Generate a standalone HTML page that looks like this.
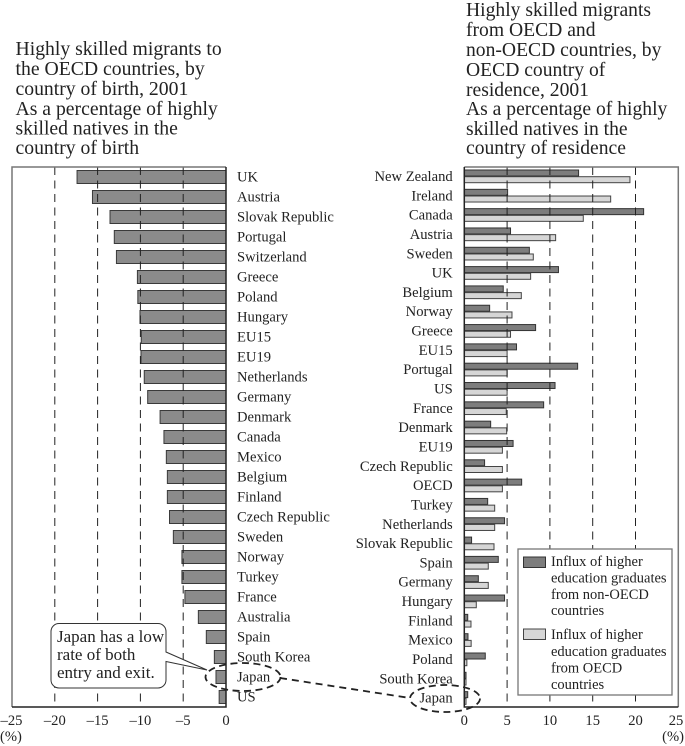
<!DOCTYPE html>
<html lang="en">
<head>
<meta charset="utf-8">
<title>Highly skilled migrants</title>
<style>
html,body{margin:0;padding:0;background:#fff;}
svg{display:block;font-family:"Liberation Serif",serif;fill:#222;}
</style>
</head>
<body>
<svg id="chart" xmlns="http://www.w3.org/2000/svg" width="685" height="746" viewBox="0 0 685 746">
  <g font-size="19.7">
    <text x="15.500" y="55">Highly skilled migrants to</text>
    <text x="15.500" y="75">the OECD countries, by</text>
    <text x="15.500" y="95">country of birth, 2001</text>
    <text x="15.500" y="115">As a percentage of highly</text>
    <text x="15.500" y="134.500">skilled natives in the</text>
    <text x="15.500" y="154">country of birth</text>
  </g>
  <g font-size="19.6">
    <text x="466" y="16">Highly skilled migrants</text>
    <text x="466" y="36">from OECD and</text>
    <text x="466" y="56">non-OECD countries, by</text>
    <text x="466" y="76">OECD country of</text>
    <text x="466" y="96">residence, 2001</text>
    <text x="466" y="115">As a percentage of highly</text>
    <text x="466" y="135">skilled natives in the</text>
    <text x="466" y="154">country of residence</text>
  </g>
  <g id="left-plot"></g>
  <g id="right-plot"></g>

  <g>
    <rect x="518" y="549" width="154" height="146" fill="#fff" stroke="#777" stroke-width="1.3"/>
    <rect x="523.500" y="557" width="22" height="10.500" fill="#7d7d7d" stroke="#333" stroke-width="1"/>
    <g font-size="14.500">
      <text x="551" y="566">Influx of higher</text>
      <text x="551" y="582.500">education graduates</text>
      <text x="551" y="599">from non-OECD</text>
      <text x="551" y="615">countries</text>
    </g>
    <rect x="523.500" y="629" width="22" height="10.500" fill="#d6d6d6" stroke="#444" stroke-width="1"/>
    <g font-size="14.500">
      <text x="551" y="639">Influx of higher</text>
      <text x="551" y="656">education graduates</text>
      <text x="551" y="672.500">from OECD</text>
      <text x="551" y="689">countries</text>
    </g>
  </g>

  <g>
    <ellipse cx="243" cy="677" rx="37.500" ry="14" fill="none" stroke="#222" stroke-width="1.800" stroke-dasharray="7 4.500"/>
    <ellipse cx="445" cy="698.500" rx="35" ry="13.500" fill="none" stroke="#222" stroke-width="1.800" stroke-dasharray="7 4.500"/>
    <line x1="280" y1="678" x2="410" y2="698" stroke="#222" stroke-width="1.800" stroke-dasharray="7 5"/>
    <path d="M59 623.500H158a8 8 0 0 1 8 8V652L207 670L166 661.500V680a8 8 0 0 1-8 8H59a8 8 0 0 1-8-8V631.500a8 8 0 0 1 8-8Z" fill="#fff" stroke="#333" stroke-width="1"/>
    <g font-size="17">
      <text x="57" y="642">Japan has a low</text>
      <text x="57" y="660">rate of both</text>
      <text x="57" y="678">entry and exit.</text>
    </g>
  </g>
</svg>
<script>
const leftCategories = ["UK","Austria","Slovak Republic","Portugal","Switzerland","Greece","Poland","Hungary","EU15","EU19","Netherlands","Germany","Denmark","Canada","Mexico","Belgium","Finland","Czech Republic","Sweden","Norway","Turkey","France","Australia","Spain","South Korea","Japan","US"];
const leftValues = [17.4,15.6,13.55,13.05,12.8,10.35,10.3,10.05,9.9,9.93,9.55,9.15,7.7,7.25,6.97,6.85,6.85,6.6,6.15,5.15,5.15,4.8,3.23,2.3,1.36,1.17,0.8];
const leftTicks = [-25,-20,-15,-10,-5,0];

const rightCategories = ["New Zealand","Ireland","Canada","Austria","Sweden","UK","Belgium","Norway","Greece","EU15","Portugal","US","France","Denmark","EU19","Czech Republic","OECD","Turkey","Netherlands","Slovak Republic","Spain","Germany","Hungary","Finland","Mexico","Poland","South Korea","Japan"];
const nonOecdValues = [13.35,5.06,20.95,5.4,7.6,11.0,4.55,2.96,8.33,6.1,13.24,10.6,9.27,3.08,5.7,2.37,6.7,2.73,4.7,0.85,3.97,1.64,4.7,0.4,0.43,2.45,0.2,0.4];
const oecdValues = [19.35,17.1,13.9,10.67,8.06,7.75,6.66,5.57,5.4,5.0,5.0,5.0,4.9,4.95,4.45,4.45,4.45,3.55,3.55,3.47,2.8,2.8,1.4,0.78,0.8,0.3,0.2,0.2];
const rightTicks = [0,5,10,15,20,25];

const SVGNS = "http://www.w3.org/2000/svg";
const PLOT_TOP = 167;
const PLOT_BOTTOM = 707;
const UNIT = 8.56;
const xLeft = v => 226 + v * UNIT;
const xRight = v => 464.3 + v * UNIT;
const yLeft = i => 177 + i * 20;
const yRight = i => 176 + i * 19.32;

function make(parent, tag, attrs, text) {
  const el = document.createElementNS(SVGNS, tag);
  for (const k in attrs) el.setAttribute(k, attrs[k]);
  if (text !== undefined) el.textContent = text;
  parent.appendChild(el);
  return el;
}
function tickText(t) { return t < 0 ? "\u2013" + Math.abs(t) : String(t); }

const lp = document.getElementById("left-plot");
const rp = document.getElementById("right-plot");

// left bars
leftValues.forEach((v, i) => {
  const x = xLeft(-v);
  const bar = make(lp, "rect", {x: x, y: yLeft(i) - 6.5, width: xLeft(0) - x, height: 13, fill: "#8b8b8b", stroke: "#3a3a3a", "stroke-width": 1});
  
  
  const label = make(lp, "text", {x: 237, y: yLeft(i) + 4.5, "font-size": 14.6}, leftCategories[i]);
  
  
});

// left grid + ticks
leftTicks.forEach(t => {
  if (t !== 0 && t !== -25) {
    const g = make(lp, "line", {x1: xLeft(t), x2: xLeft(t), y1: PLOT_TOP, y2: PLOT_BOTTOM, stroke: "#222", "stroke-width": 1, "stroke-dasharray": "8 5.500"});
    
    
  }
  const lab = make(lp, "text", {x: t === -25 ? 11.5 : xLeft(t), y: 725, "font-size": 14.6, "text-anchor": "middle"}, tickText(t));
  
  
});

// left frame
const lFrame = make(lp, "path", {d: `M${xLeft(0)} ${PLOT_TOP}H${xLeft(-25)}V${PLOT_BOTTOM}`, fill: "none", stroke: "#777", "stroke-width": 1.5});


const lAxis = make(lp, "path", {d: `M${xLeft(-25)} ${PLOT_BOTTOM}H${xLeft(0)}V${PLOT_TOP}`, fill: "none", stroke: "#222", "stroke-width": 1.5});


const lUnit = make(lp, "text", {x: 0, y: 741, "font-size": 14.6}, "(%)");



// right bars
rightCategories.forEach((c, i) => {
  const a = make(rp, "rect", {x: xRight(0), y: yRight(i) - 6, width: xRight(nonOecdValues[i]) - xRight(0), height: 6, fill: "#7d7d7d", stroke: "#333", "stroke-width": 1});
  
  
  const b = make(rp, "rect", {x: xRight(0), y: yRight(i) + 0.7, width: xRight(oecdValues[i]) - xRight(0), height: 6, fill: "#d6d6d6", stroke: "#444", "stroke-width": 1});
  
  
  const label = make(rp, "text", {x: 452.7, y: yRight(i) + 5, "font-size": 14.6, "text-anchor": "end"}, c);
  
  
});

// right grid + ticks
rightTicks.forEach(t => {
  if (t !== 0 && t !== 25) {
    const g = make(rp, "line", {x1: xRight(t), x2: xRight(t), y1: PLOT_TOP, y2: PLOT_BOTTOM, stroke: "#222", "stroke-width": 1, "stroke-dasharray": "8 5.500"});
    
    
  }
  const lab = make(rp, "text", {x: t === 25 ? 676 : xRight(t), y: 725, "font-size": 14.6, "text-anchor": "middle"}, tickText(t));
  
  
});

// right frame
const rFrame = make(rp, "path", {d: `M${xRight(0)} ${PLOT_TOP}H${xRight(25)}V${PLOT_BOTTOM}`, fill: "none", stroke: "#777", "stroke-width": 1.5});


const rAxis = make(rp, "path", {d: `M${xRight(0)} ${PLOT_TOP}V${PLOT_BOTTOM}H${xRight(25)}`, fill: "none", stroke: "#222", "stroke-width": 1.5});


const rUnit = make(rp, "text", {x: 684, y: 741, "font-size": 14.6, "text-anchor": "end"}, "(%)");


</script>
</body>
</html>
